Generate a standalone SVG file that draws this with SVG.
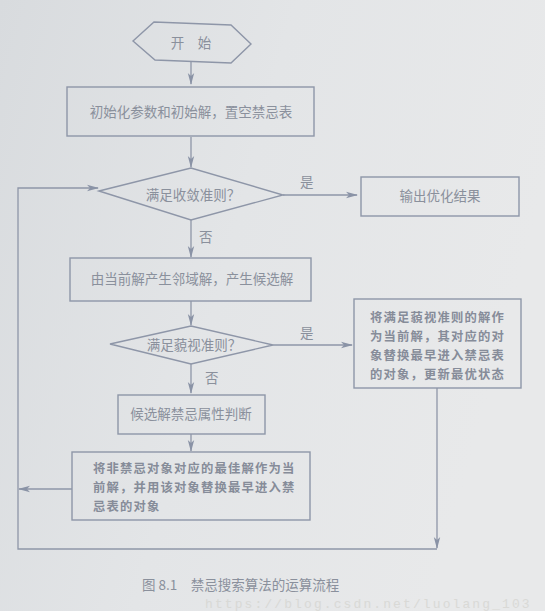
<svg xmlns="http://www.w3.org/2000/svg" width="545" height="611" viewBox="0 0 545 611">
<defs>
<linearGradient id="bg" x1="0" y1="0" x2="1" y2="0.3">
<stop offset="0" stop-color="#d8dbde"/>
<stop offset="0.5" stop-color="#e3e5e7"/>
<stop offset="1" stop-color="#e8e9ea"/>
</linearGradient>
<marker id="arr" viewBox="0 0 12 8" refX="11" refY="4" markerWidth="12" markerHeight="8" markerUnits="userSpaceOnUse" orient="auto">
<path d="M0,0.8 L12,4 L0,7.2 L3,4 z" fill="#8a93a6"/>
</marker>
<style>
.n{fill:none;stroke:#8e96a8;stroke-width:1.4}
.c{fill:none;stroke:#8e96a8;stroke-width:1.3}
.t{font-family:"Noto Sans CJK SC","Noto Sans CJK JP",sans-serif;fill:#8a909c;font-size:13.5px}
.m{text-anchor:middle}
.b{font-weight:bold;fill:#868c99;font-size:12.3px;letter-spacing:1.2px}
</style>
</defs>
<rect width="545" height="611" fill="url(#bg)"/>
<g id="connectors">
<path class="c" d="M191,62 V84" marker-end="url(#arr)"/>
<path class="c" d="M191,137 V167" marker-end="url(#arr)"/>
<path class="c" d="M283,195 H357" marker-end="url(#arr)"/>
<path class="c" d="M191,220 V257" marker-end="url(#arr)"/>
<path class="c" d="M191,301 V325" marker-end="url(#arr)"/>
<path class="c" d="M273,345 H352" marker-end="url(#arr)"/>
<path class="c" d="M191,364 V393" marker-end="url(#arr)"/>
<path class="c" d="M191,434 V451" marker-end="url(#arr)"/>
<path class="c" d="M72,489 H19" marker-end="url(#arr)"/>
<path class="c" d="M437,388 V548" marker-end="url(#arr)"/>
<path class="c" d="M437,549 H18 V188 H98" marker-end="url(#arr)"/>
<text class="t" x="300" y="187">是</text>
<text class="t" x="199" y="242">否</text>
<text class="t" x="300" y="338">是</text>
<text class="t" x="205" y="383">否</text>
</g>
<g id="start">
<path class="n" d="M133,41 L154,22 L231,25 L251,44 L231,63 L155,60 z"/>
<text class="t m" x="191" y="48" font-size="15">开　始</text>
</g>
<g id="init">
<rect class="n" x="67" y="87" width="247" height="49"/>
<text class="t m" x="191" y="117" font-size="14">初始化参数和初始解，置空禁忌表</text>
</g>
<g id="converge">
<path class="n" d="M99,191 L191,168 L283,195 L191,220 z"/>
<text class="t m" x="193" y="200" font-size="13.5">满足收敛准则？</text>
</g>
<g id="output">
<rect class="n" x="361" y="177" width="158" height="39"/>
<text class="t m" x="440" y="201">输出优化结果</text>
</g>
<g id="neighbor">
<rect class="n" x="70" y="258" width="241" height="43"/>
<text class="t m" x="192" y="284" font-size="14">由当前解产生邻域解，产生候选解</text>
</g>
<g id="aspiration">
<path class="n" d="M110,344 L191,326 L273,345 L191,364 z"/>
<text class="t m" x="194" y="350">满足藐视准则？</text>
</g>
<g id="update">
<rect class="n" x="354" y="299" width="167" height="89"/>
<text class="t b" x="370" y="322">将满足藐视准则的解作</text>
<text class="t b" x="370" y="341">为当前解，其对应的对</text>
<text class="t b" x="370" y="360">象替换最早进入禁忌表</text>
<text class="t b" x="370" y="379">的对象，更新最优状态</text>
</g>
<g id="tabu">
<rect class="n" x="118" y="395" width="147" height="39"/>
<text class="t m" x="191" y="419">候选解禁忌属性判断</text>
</g>
<g id="replace">
<rect class="n" x="72" y="452" width="238" height="68"/>
<text class="t b" x="93" y="473">将非禁忌对象对应的最佳解作为当</text>
<text class="t b" x="93" y="492">前解，并用该对象替换最早进入禁</text>
<text class="t b" x="93" y="511">忌表的对象</text>
</g>
<text class="t" x="142" y="590" font-size="17.5">图 8.1　禁忌搜索算法的运算流程</text>
<text x="205" y="608" font-family="Liberation Mono, monospace" font-size="13" letter-spacing="2.1" fill="#d6d6d2" opacity="0.8">https://blog.csdn.net/luolang_103</text>
</svg>
